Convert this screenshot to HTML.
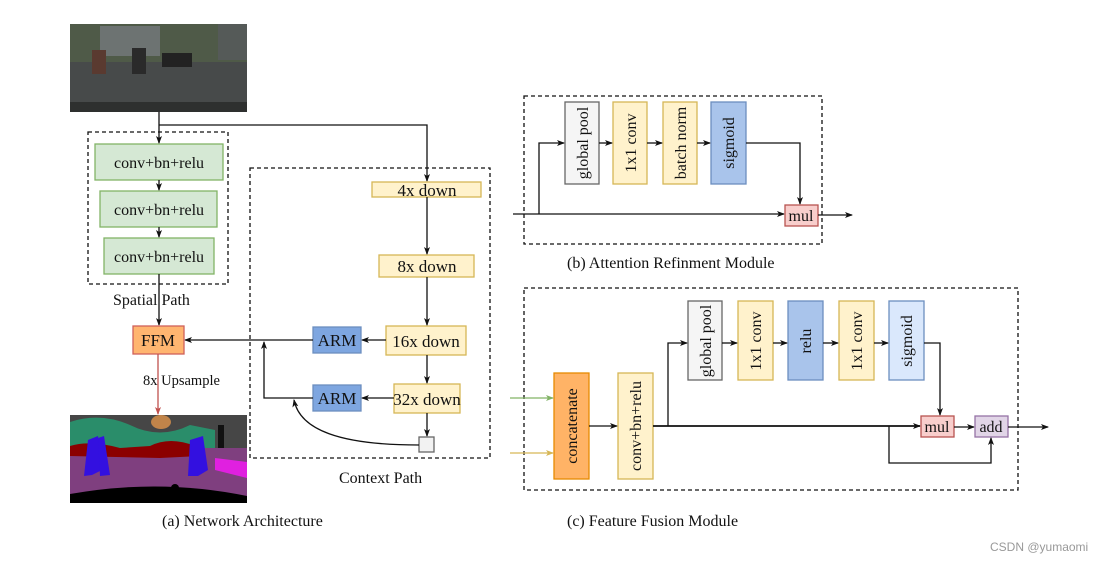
<!DOCTYPE html>
<html><head><meta charset="utf-8"><style>
html,body{margin:0;padding:0;background:#fff;}
svg{display:block;}
text{font-family:"Liberation Serif",serif;font-size:16px;fill:#111;}
</style></head><body>
<svg width="1104" height="563" viewBox="0 0 1104 563" xmlns="http://www.w3.org/2000/svg">
<defs>
<marker id="a" markerWidth="8" markerHeight="8" refX="7" refY="4" orient="auto" markerUnits="userSpaceOnUse"><path d="M0,1 L8,4 L0,7 L2,4 Z" fill="#111"/></marker>
<marker id="ag" markerWidth="8" markerHeight="8" refX="7" refY="4" orient="auto" markerUnits="userSpaceOnUse"><path d="M0,1 L8,4 L0,7 L2,4 Z" fill="#82b366"/></marker>
<marker id="ay" markerWidth="8" markerHeight="8" refX="7" refY="4" orient="auto" markerUnits="userSpaceOnUse"><path d="M0,1 L8,4 L0,7 L2,4 Z" fill="#d6b656"/></marker>
<marker id="ar" markerWidth="8" markerHeight="8" refX="7" refY="4" orient="auto" markerUnits="userSpaceOnUse"><path d="M0,1 L8,4 L0,7 L2,4 Z" fill="#c0504d"/></marker>
</defs>

<!-- photo -->
<rect x="70" y="24" width="177" height="88" fill="#3c3f3e"/>
<rect x="70" y="24" width="177" height="38" fill="#4f5a48"/>
<rect x="100" y="26" width="60" height="30" fill="#6d7372"/>
<rect x="218" y="24" width="29" height="36" fill="#555a58"/>
<rect x="70" y="62" width="177" height="50" fill="#474a4a"/>
<rect x="70" y="102" width="177" height="10" fill="#2e302f"/>
<rect x="162" y="53" width="30" height="14" fill="#222"/>
<rect x="92" y="50" width="14" height="24" fill="#5a3a30"/>
<rect x="132" y="48" width="14" height="26" fill="#2a2a2a"/>

<!-- spatial path -->
<rect x="88" y="132" width="140" height="152" fill="none" stroke="#111" stroke-dasharray="4,3" stroke-width="1.3"/>
<rect x="95" y="144" width="128" height="36" fill="#d5e8d4" stroke="#82b366" stroke-width="1.3"/>
<rect x="100" y="191" width="117" height="36" fill="#d5e8d4" stroke="#82b366" stroke-width="1.3"/>
<rect x="104" y="238" width="110" height="36" fill="#d5e8d4" stroke="#82b366" stroke-width="1.3"/>
<text x="159" y="168" text-anchor="middle">conv+bn+relu</text>
<text x="159" y="215" text-anchor="middle">conv+bn+relu</text>
<text x="159" y="262" text-anchor="middle">conv+bn+relu</text>
<line x1="159" y1="112" x2="159" y2="143" stroke="#111" stroke-width="1.3" marker-end="url(#a)"/>
<line x1="159" y1="180" x2="159" y2="190" stroke="#111" stroke-width="1.3" marker-end="url(#a)"/>
<line x1="159" y1="227" x2="159" y2="237" stroke="#111" stroke-width="1.3" marker-end="url(#a)"/>
<line x1="159" y1="274" x2="159" y2="325" stroke="#111" stroke-width="1.3" marker-end="url(#a)"/>
<text x="113" y="305">Spatial  Path</text>
<polyline points="159,125 427,125 427,181" fill="none" stroke="#111" stroke-width="1.3" marker-end="url(#a)"/>

<!-- context path -->
<rect x="250" y="168" width="240" height="290" fill="none" stroke="#111" stroke-dasharray="4,3" stroke-width="1.3"/>
<rect x="372" y="182" width="109" height="15" fill="#fff2cc" stroke="#d6b656" stroke-width="1.3"/>
<rect x="379" y="255" width="95" height="22" fill="#fff2cc" stroke="#d6b656" stroke-width="1.3"/>
<rect x="386" y="326" width="80" height="29" fill="#fff2cc" stroke="#d6b656" stroke-width="1.3"/>
<rect x="394" y="384" width="66" height="29" fill="#fff2cc" stroke="#d6b656" stroke-width="1.3"/>
<text x="427" y="196" text-anchor="middle" style="font-size:17px">4x down</text>
<text x="427" y="272" text-anchor="middle" style="font-size:17px">8x down</text>
<text x="426" y="347" text-anchor="middle" style="font-size:17px">16x down</text>
<text x="427" y="405" text-anchor="middle" style="font-size:17px">32x down</text>
<line x1="427" y1="197" x2="427" y2="254" stroke="#111" stroke-width="1.3" marker-end="url(#a)"/>
<line x1="427" y1="277" x2="427" y2="325" stroke="#111" stroke-width="1.3" marker-end="url(#a)"/>
<line x1="427" y1="355" x2="427" y2="383" stroke="#111" stroke-width="1.3" marker-end="url(#a)"/>
<line x1="427" y1="413" x2="427" y2="436" stroke="#111" stroke-width="1.3" marker-end="url(#a)"/>
<rect x="419" y="437" width="15" height="15" fill="#f2f2f2" stroke="#666" stroke-width="1.3"/>
<rect x="313" y="327" width="48" height="26" fill="#7ea6e0" stroke="#6c8ebf" stroke-width="1.3"/>
<rect x="313" y="385" width="48" height="26" fill="#7ea6e0" stroke="#6c8ebf" stroke-width="1.3"/>
<text x="337" y="346" text-anchor="middle" style="font-size:17px">ARM</text>
<text x="337" y="404" text-anchor="middle" style="font-size:17px">ARM</text>
<line x1="386" y1="340" x2="362" y2="340" stroke="#111" stroke-width="1.3" marker-end="url(#a)"/>
<line x1="394" y1="398" x2="362" y2="398" stroke="#111" stroke-width="1.3" marker-end="url(#a)"/>
<line x1="313" y1="340" x2="185" y2="340" stroke="#111" stroke-width="1.3" marker-end="url(#a)"/>
<polyline points="313,398 264,398 264,342" fill="none" stroke="#111" stroke-width="1.3" marker-end="url(#a)"/>
<path d="M419,445 C340,445 300,430 294,400" fill="none" stroke="#111" stroke-width="1.3" marker-end="url(#a)"/>
<text x="339" y="483">Context Path</text>

<!-- FFM -->
<rect x="133" y="326" width="51" height="28" fill="#ffb570" stroke="#d0605a" stroke-width="1.3"/>
<text x="158" y="346" text-anchor="middle" style="font-size:17px">FFM</text>
<line x1="158" y1="354" x2="158" y2="414" stroke="#c0504d" stroke-width="1.3" marker-end="url(#ar)"/>
<text x="143" y="385" style="font-size:14.5px">8x Upsample</text>

<!-- seg image -->
<rect x="70" y="415" width="177" height="88" fill="#464646"/>
<path d="M70,422 Q100,412 130,425 Q160,440 190,425 L215,430 L215,450 L70,450 Z" fill="#2a8d6a"/>
<ellipse cx="161" cy="422" rx="10" ry="7" fill="#c0844a"/>
<rect x="70" y="448" width="177" height="48" fill="#7f3f7f"/>
<path d="M70,446 Q90,440 120,448 L150,446 Q170,436 195,446 L200,456 L160,458 L70,456 Z" fill="#8b0000"/>
<path d="M215,458 L247,462 L247,478 L215,470 Z" fill="#e020e0"/>
<path d="M70,494 Q160,478 247,496 L247,503 L70,503 Z" fill="#000"/>
<circle cx="175" cy="488" r="4" fill="#000"/>
<path d="M88,440 L98,436 L102,470 L92,475 L84,476 Z" fill="#3310e0"/>
<path d="M98,438 L104,436 L110,475 L100,476 Z" fill="#3310e0"/>
<path d="M190,440 L203,436 L208,470 L198,476 L188,476 Z" fill="#3310e0"/>
<rect x="218" y="425" width="6" height="23" fill="#111"/>
<text x="162" y="526">(a) Network Architecture</text>

<!-- (b) ARM -->
<rect x="524" y="96" width="298" height="148" fill="none" stroke="#111" stroke-dasharray="4,3" stroke-width="1.3"/>
<rect x="565" y="102" width="34" height="82" fill="#f5f5f5" stroke="#666" stroke-width="1.3"/>
<rect x="613" y="102" width="34" height="82" fill="#fff2cc" stroke="#d6b656" stroke-width="1.3"/>
<rect x="663" y="102" width="34" height="82" fill="#fff2cc" stroke="#d6b656" stroke-width="1.3"/>
<rect x="711" y="102" width="35" height="82" fill="#a9c4eb" stroke="#6c8ebf" stroke-width="1.3"/>
<text transform="translate(588,143) rotate(-90)" text-anchor="middle">global pool</text>
<text transform="translate(636,143) rotate(-90)" text-anchor="middle">1x1 conv</text>
<text transform="translate(686,143) rotate(-90)" text-anchor="middle">batch norm</text>
<text transform="translate(734,143) rotate(-90)" text-anchor="middle">sigmoid</text>
<line x1="599" y1="143" x2="612" y2="143" stroke="#111" stroke-width="1.3" marker-end="url(#a)"/>
<line x1="647" y1="143" x2="662" y2="143" stroke="#111" stroke-width="1.3" marker-end="url(#a)"/>
<line x1="697" y1="143" x2="710" y2="143" stroke="#111" stroke-width="1.3" marker-end="url(#a)"/>
<polyline points="539,214 539,143 564,143" fill="none" stroke="#111" stroke-width="1.3" marker-end="url(#a)"/>
<line x1="513" y1="214" x2="784" y2="214" stroke="#111" stroke-width="1.3" marker-end="url(#a)"/>
<polyline points="746,143 800,143 800,204" fill="none" stroke="#111" stroke-width="1.3" marker-end="url(#a)"/>
<rect x="785" y="205" width="33" height="21" fill="#f8cecc" stroke="#b85450" stroke-width="1.3"/>
<text x="801" y="221" text-anchor="middle">mul</text>
<line x1="818" y1="215" x2="852" y2="215" stroke="#111" stroke-width="1.3" marker-end="url(#a)"/>
<text x="567" y="268">(b) Attention Refinment Module</text>

<!-- (c) FFM -->
<rect x="524" y="288" width="494" height="202" fill="none" stroke="#111" stroke-dasharray="4,3" stroke-width="1.3"/>
<rect x="554" y="373" width="35" height="106" fill="#ffb366" stroke="#e68a00" stroke-width="1.3"/>
<rect x="618" y="373" width="35" height="106" fill="#fff2cc" stroke="#d6b656" stroke-width="1.3"/>
<text transform="translate(577,426) rotate(-90)" text-anchor="middle">concatenate</text>
<text transform="translate(641,426) rotate(-90)" text-anchor="middle">conv+bn+relu</text>
<line x1="510" y1="398" x2="553" y2="398" stroke="#82b366" stroke-width="1.3" marker-end="url(#ag)"/>
<line x1="510" y1="453" x2="553" y2="453" stroke="#d6b656" stroke-width="1.3" marker-end="url(#ay)"/>
<line x1="589" y1="426" x2="617" y2="426" stroke="#111" stroke-width="1.3" marker-end="url(#a)"/>
<rect x="688" y="301" width="34" height="79" fill="#f5f5f5" stroke="#666" stroke-width="1.3"/>
<rect x="738" y="301" width="35" height="79" fill="#fff2cc" stroke="#d6b656" stroke-width="1.3"/>
<rect x="788" y="301" width="35" height="79" fill="#a9c4eb" stroke="#6c8ebf" stroke-width="1.3"/>
<rect x="839" y="301" width="35" height="79" fill="#fff2cc" stroke="#d6b656" stroke-width="1.3"/>
<rect x="889" y="301" width="35" height="79" fill="#dae8fc" stroke="#6c8ebf" stroke-width="1.3"/>
<text transform="translate(711,341) rotate(-90)" text-anchor="middle">global pool</text>
<text transform="translate(761,341) rotate(-90)" text-anchor="middle">1x1 conv</text>
<text transform="translate(811,341) rotate(-90)" text-anchor="middle">relu</text>
<text transform="translate(862,341) rotate(-90)" text-anchor="middle">1x1 conv</text>
<text transform="translate(912,341) rotate(-90)" text-anchor="middle">sigmoid</text>
<line x1="722" y1="343" x2="737" y2="343" stroke="#111" stroke-width="1.3" marker-end="url(#a)"/>
<line x1="773" y1="343" x2="787" y2="343" stroke="#111" stroke-width="1.3" marker-end="url(#a)"/>
<line x1="823" y1="343" x2="838" y2="343" stroke="#111" stroke-width="1.3" marker-end="url(#a)"/>
<line x1="874" y1="343" x2="888" y2="343" stroke="#111" stroke-width="1.3" marker-end="url(#a)"/>
<line x1="653" y1="426" x2="920" y2="426" stroke="#111" stroke-width="1.8" marker-end="url(#a)"/>
<polyline points="668,426 668,343 687,343" fill="none" stroke="#111" stroke-width="1.3" marker-end="url(#a)"/>
<polyline points="924,343 940,343 940,415" fill="none" stroke="#111" stroke-width="1.3" marker-end="url(#a)"/>
<rect x="921" y="416" width="33" height="21" fill="#f8cecc" stroke="#b85450" stroke-width="1.3"/>
<text x="937" y="432" text-anchor="middle">mul</text>
<line x1="954" y1="427" x2="974" y2="427" stroke="#111" stroke-width="1.3" marker-end="url(#a)"/>
<rect x="975" y="416" width="33" height="21" fill="#e1d5e7" stroke="#9673a6" stroke-width="1.3"/>
<text x="991" y="432" text-anchor="middle">add</text>
<polyline points="889,426 889,463 991,463 991,438" fill="none" stroke="#111" stroke-width="1.3" marker-end="url(#a)"/>
<line x1="1008" y1="427" x2="1048" y2="427" stroke="#111" stroke-width="1.3" marker-end="url(#a)"/>
<text x="567" y="526">(c) Feature Fusion Module</text>

<text x="990" y="551" style="font-family:'Liberation Sans',sans-serif;font-size:12px;fill:#999">CSDN @yumaomi</text>
</svg>
</body></html>
